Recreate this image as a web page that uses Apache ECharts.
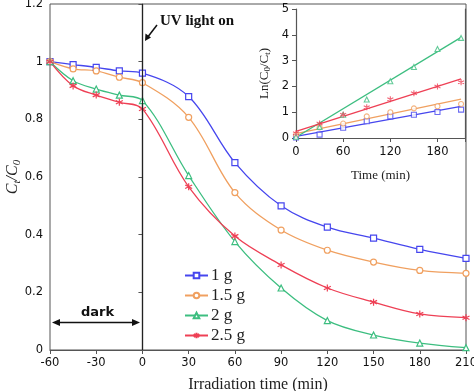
<!DOCTYPE html>
<html><head><meta charset="utf-8">
<script src="https://cdn.jsdelivr.net/npm/echarts@6/dist/echarts.min.js"></script>
<style>html,body{margin:0;padding:0;background:#fff}#c{width:474px;height:391px}</style>
</head><body><div id="c"></div>
<script>
// ---- data ----
const timeMain = [-60,-45,-30,-15,0,30,60,90,120,150,180,210];
const g1  = [1.0,0.99,0.98,0.968,0.96,0.879,0.65,0.50,0.426,0.388,0.349,0.318];
const g15 = [1.0,0.975,0.968,0.946,0.927,0.807,0.546,0.416,0.346,0.305,0.276,0.266];
const g2  = [1.0,0.934,0.905,0.884,0.865,0.605,0.376,0.215,0.102,0.052,0.024,0.008];
const g25 = [1.0,0.916,0.884,0.859,0.836,0.566,0.395,0.295,0.215,0.166,0.125,0.112];
const seriesNames = ['1 g','1.5 g','2 g','2.5 g'];

const timeInset = [0,30,60,90,120,150,180,210];
const ln1  = [0.02,0.13,0.40,0.65,0.84,0.90,1.01,1.10];
const ln15 = [0.12,0.41,0.56,0.84,1.00,1.15,1.23,1.32];
const ln2  = [0.05,0.43,0.90,1.49,2.20,2.75,3.45,3.88];
const ln25 = [0.18,0.56,0.90,1.19,1.50,1.73,2.00,2.16];
const fitX = [0,210];
const fit1  = [0.06,1.23];
const fit15 = [0.17,1.51];
const fit2  = [0.03,3.90];
const fit25 = [0.26,2.29];

// ---- styles ----
const colors = ['#4646EE','#F0A060','#3DBE80','#EE4055'];
const star = 'path://M0,-5L0,5M-4.3,-2.5L4.3,2.5M-4.3,2.5L4.3,-2.5';
const symbols = ['rect','circle','triangle',star];
const axisCol = '#555';
const sans = 'DejaVu Sans';
const serif = 'Liberation Serif';

const zip = (xs, ys) => xs.map((x,i)=>[x,ys[i]]);
const mainData = [g1,g15,g2,g25];
const lnData = [ln1,ln15,ln2,ln25];
const fitData = [fit1,fit15,fit2,fit25];

const series = [];
mainData.forEach((d,i)=>{
  const s = {
    name: seriesNames[i], type:'line', xAxisIndex:0, yAxisIndex:0,
    data: zip(timeMain,d), smooth:0.35,
    symbol: symbols[i], symbolSize: i===3?7:6,
    lineStyle:{color:colors[i],width:1.3},
    itemStyle:{color: i===3?colors[i]:'#fff', borderColor:colors[i], borderWidth:1.2},
    z: 3
  };
  if(i===0){
    s.markLine = {silent:true, symbol:'none', label:{show:false},
      lineStyle:{color:'#222',type:'solid',width:1.2}, data:[{xAxis:0}]};
  }
  series.push(s);
});
lnData.forEach((d,i)=>{
  series.push({
    name: seriesNames[i], type:'scatter', xAxisIndex:1, yAxisIndex:1,
    data: zip(timeInset,d), symbol: symbols[i], symbolSize: i===3?6:5,
    itemStyle:{color: i===3?colors[i]:'#fff', borderColor:colors[i], borderWidth:1.1}, z:4
  });
  series.push({
    name: seriesNames[i]+' fit', type:'line', xAxisIndex:1, yAxisIndex:1,
    data: zip(fitX,fitData[i]), symbol:'none',
    lineStyle:{color:colors[i],width:1.3}, z:3
  });
});

const chart = echarts.init(document.getElementById('c'), null, {renderer:'canvas'});
chart.setOption({
  animation:false,
  backgroundColor:'#fff',
  grid:[
    {left:50, top:4, width:416, height:346, show:true, borderColor:axisCol, borderWidth:1, containLabel:false, outerBoundsMode:'none'},
    {left:296, top:9, width:169, height:129, containLabel:false, outerBoundsMode:'none'}
  ],
  legend:{
    data: seriesNames, orient:'vertical', left:184, top:267, padding:0,
    itemWidth:23, itemHeight:7, itemGap:3,
    textStyle:{fontFamily:serif, fontSize:17, color:'#222', padding:[0,0,0,-2]}
  },
  xAxis:[
    {gridIndex:0, type:'value', min:-60, max:210, interval:30,
     axisLine:{lineStyle:{color:axisCol,width:1.2}}, axisTick:{show:true,length:4,lineStyle:{color:axisCol}},
     axisLabel:{fontFamily:sans, fontSize:11.5, color:'#111', margin:7},
     splitLine:{show:false},
     name:'Irradiation time (min)', nameLocation:'middle', nameGap:27,
     nameTextStyle:{fontFamily:serif, fontSize:16, color:'#222'}},
    {gridIndex:1, type:'value', min:0, max:215, interval:60,
     axisLine:{onZero:false, lineStyle:{color:axisCol,width:1.2}}, axisTick:{show:true,length:4,lineStyle:{color:axisCol}},
     axisLabel:{fontFamily:sans, fontSize:11.5, color:'#111', margin:8,
       formatter:v=> v%60===0 && v<=180 ? String(v) : ''},
     splitLine:{show:false},
     name:'Time (min)', nameLocation:'middle', nameGap:31,
     nameTextStyle:{fontFamily:serif, fontSize:13, color:'#222'}}
  ],
  yAxis:[
    {gridIndex:0, type:'value', min:0, max:1.2, interval:0.2,
     axisLine:{lineStyle:{color:axisCol,width:1.2}}, axisTick:{show:true,length:4,lineStyle:{color:axisCol}},
     axisLabel:{fontFamily:sans, fontSize:11.5, color:'#111', margin:7,
       formatter:v=>String(Math.round(v*10)/10)},
     splitLine:{show:false}},
    {gridIndex:1, type:'value', min:0, max:5, interval:1,
     axisLine:{onZero:false, lineStyle:{color:axisCol,width:1.2}}, axisTick:{show:true,length:4,lineStyle:{color:axisCol}},
     axisLabel:{fontFamily:sans, fontSize:11.5, color:'#111', margin:7},
     splitLine:{show:false},
     name:'{n|Ln(C}{s|0}{n|/C}{s|t}{n|)}', nameLocation:'middle', nameGap:24,
     nameTextStyle:{rich:{
       n:{fontFamily:serif, fontSize:13, color:'#222'},
       s:{fontFamily:serif, fontSize:9, color:'#222', verticalAlign:'bottom', padding:[6,0,0,0]}
     }}},
    {gridIndex:1, type:'value', min:0, max:5, position:'right',
     axisLine:{show:true, onZero:false, lineStyle:{color:axisCol,width:1.2}}, axisTick:{show:false},
     axisLabel:{show:false}, splitLine:{show:false}}
  ],
  graphic:[
    {type:'text', x:13, y:177, rotation:Math.PI/2,
     style:{text:'{i|C}{s|t}{i|/C}{s|0}', align:'center', verticalAlign:'middle',
       rich:{
         i:{fontFamily:serif, fontStyle:'italic', fontSize:16, fill:'#222'},
         s:{fontFamily:serif, fontStyle:'italic', fontSize:11, fill:'#222', verticalAlign:'bottom', padding:[8,0,0,0]}
       }}},
    {type:'text', left:160, top:14, style:{text:'UV light on', font:'bold 15px "Liberation Serif"', fill:'#111'}},
    {type:'line', shape:{x1:157, y1:25, x2:147, y2:38}, style:{stroke:'#111', lineWidth:1.5}},
    {type:'polygon', shape:{points:[[145,41],[145.5,33.5],[151,37.5]]}, style:{fill:'#111'}},
    {type:'text', left:81, top:306, style:{text:'dark', font:'bold 13px "DejaVu Sans"', fill:'#111'}},
    {type:'line', shape:{x1:56, y1:322.5, x2:136, y2:322.5}, style:{stroke:'#111', lineWidth:1.4}},
    {type:'polygon', shape:{points:[[52,322.5],[60,319],[60,326]]}, style:{fill:'#111'}},
    {type:'polygon', shape:{points:[[140,322.5],[132,319],[132,326]]}, style:{fill:'#111'}}
  ],
  series: series
});
</script></body></html>
